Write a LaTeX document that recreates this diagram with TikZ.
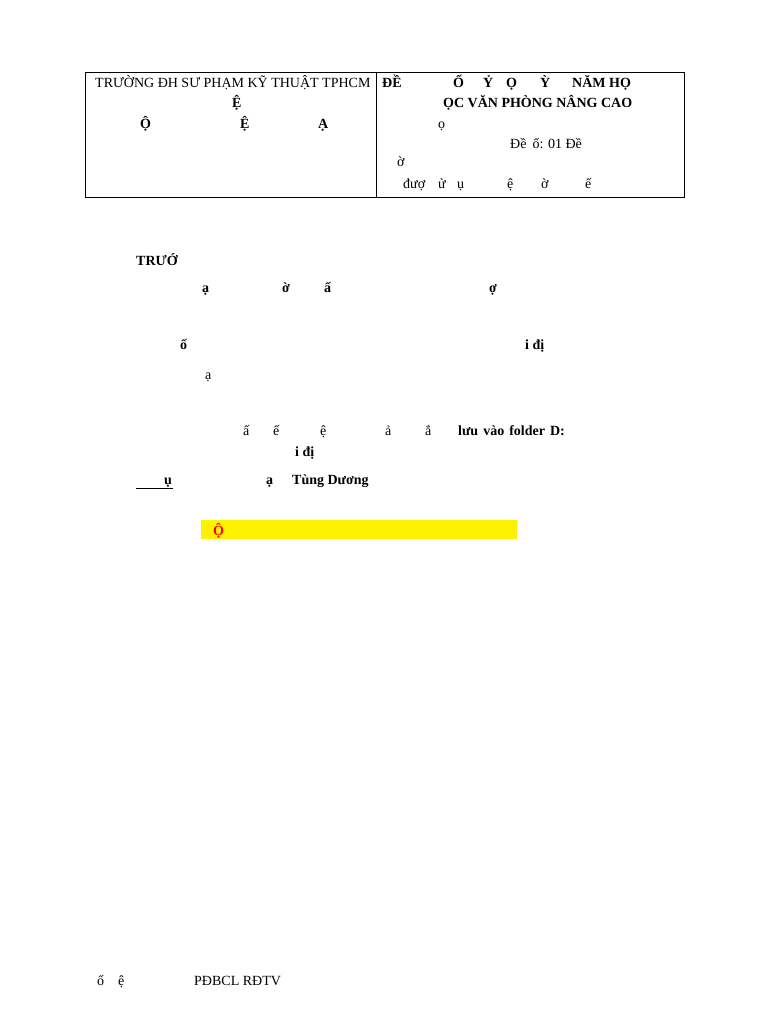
\documentclass[tikz,border=0pt]{standalone}
\usepackage{fontspec}
\setmainfont{Liberation Serif}
\begin{document}
\begin{tikzpicture}[x=1pt,y=-1pt,
  t/.style={anchor=base west,inner sep=0pt,font=\fontsize{14}{16}\selectfont},
  b/.style={t,font=\fontsize{14}{16}\selectfont\bfseries}]
\useasboundingbox (0,0) rectangle (768,1024);
\fill[white] (0,0) rectangle (768,1024);
\draw[line width=0.8pt] (85,72) rectangle (684,197);
\draw[line width=0.8pt] (376,72) -- (376,197);
\node[t] (l1) at (95,88) {TRƯỜNG ĐH SƯ PHẠM KỸ THUẬT TPHCM};
\node[b] (l2) at (232,108) {Ệ};
\node[b] (l3a) at (140,129) {Ộ};
\node[b] (l3b) at (240,129) {Ệ};
\node[b] (l3c) at (318,129) {Ạ};
\node[b] (r1a) at (382,88) {ĐỀ};
\node[b] (r1b) at (453,88) {Ố};
\node[b] (r1c) at (483,88) {Ỷ};
\node[b] (r1d) at (506,88) {Ọ};
\node[b] (r1e) at (540,88) {Ỳ};
\node[b] (r1f) at (572,88) {NĂM HỌ};
\node[b] (r2) at (443,108) {ỌC VĂN PHÒNG NÂNG CAO};
\node[t] (r3) at (438,129) {ọ};
\node[t] (r4) at (510,149) {Đề\hspace{6pt}ố: 01 Đề};
\node[t] (r5) at (397,167) {ờ};
\node[t] (r6a) at (403,189) {đượ};
\node[t] (r6b) at (438,189) {ử};
\node[t] (r6c) at (457,189) {ụ};
\node[t] (r6d) at (507,189) {ệ};
\node[t] (r6e) at (541,189) {ờ};
\node[t] (r6f) at (585,189) {ế};
\node[b] (p0) at (136,265) {TRƯỚ};
\node[b] (p1a) at (202,292) {ạ};
\node[b] (p1b) at (282,292) {ờ};
\node[b] (p1c) at (324,292) {ấ};
\node[b] (p1d) at (489,292) {ợ};
\node[b] (p2a) at (180,349) {ố};
\node[b] (p2b) at (525,349) {i đị};
\node[t] (p3) at (205,379) {ạ};
\node[t] (p4a) at (243,435) {ấ};
\node[t] (p4b) at (273,435) {ế};
\node[t] (p4c) at (320,435) {ệ};
\node[t] (p4d) at (385,435) {ả};
\node[t] (p4e) at (425,435) {ắ};
\node[b] (p4f) at (458,435) {lưu\hspace{5pt}vào\hspace{5pt}folder\hspace{5pt}D:};
\node[b] (p5) at (295,456) {i đị};
\draw (136,488) -- (173,488);
\node[b] (p6a) at (164,484) {ụ};
\node[b] (p6b) at (266,484) {ạ};
\node[b] (p6c) at (292,484) {Tùng Dương};
\fill[yellow] (201,520) rectangle (517,539);
\node[b,text=red] (p7) at (213,535) {Ộ};
\node[t] (f1) at (97,985) {ố};
\node[t] (f2) at (118,985) {ệ};
\node[t] (f3) at (194,985) {PĐBCL RĐTV};
\end{tikzpicture}
\end{document}
